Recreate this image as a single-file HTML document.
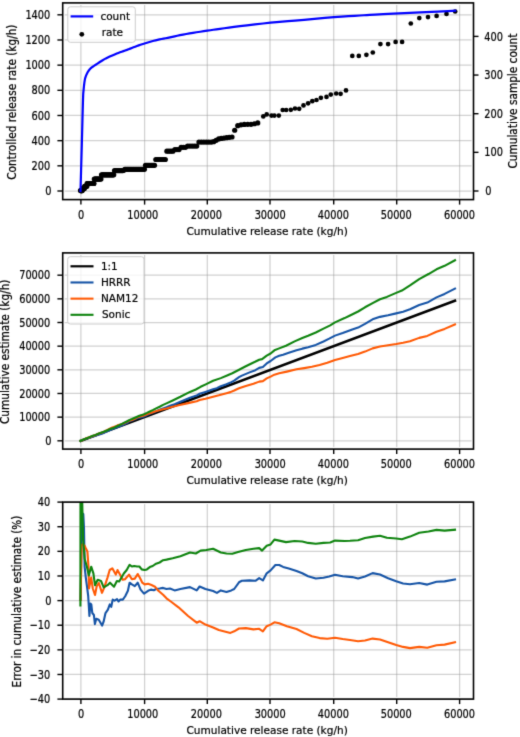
<!DOCTYPE html>
<html><head><meta charset="utf-8"><title>Cumulative release rate plots</title>
<style>html,body{margin:0;padding:0;background:#fff;}svg{display:block;} text{stroke:#000;stroke-width:0.2px;}</style>
</head><body>
<svg width="520" height="737" viewBox="0 0 520 737" font-family="'DejaVu Sans', 'Liberation Sans', sans-serif" fill="#000">
<defs><filter id="soft" x="0" y="0" width="520" height="737" filterUnits="userSpaceOnUse" color-interpolation-filters="sRGB"><feConvolveMatrix order="3" kernelMatrix="0.0144 0.0912 0.0144 0.0912 0.5776 0.0912 0.0144 0.0912 0.0144" edgeMode="duplicate" preserveAlpha="true"/></filter></defs>
<g filter="url(#soft)">
<rect width="520" height="737" fill="#fff"/>
<defs>
<clipPath id="c1"><rect x="62.7" y="2.9" width="410.8" height="196.7"/></clipPath>
<clipPath id="c2"><rect x="62.7" y="252.9" width="410.8" height="196.2"/></clipPath>
<clipPath id="c3"><rect x="62.7" y="502.1" width="410.8" height="197"/></clipPath>
</defs>
<line x1="80.9" y1="4.9" x2="80.9" y2="197.6" stroke="#9a9a9a" stroke-opacity="0.46" stroke-width="1.25"/>
<line x1="144.6" y1="4.9" x2="144.6" y2="197.6" stroke="#9a9a9a" stroke-opacity="0.46" stroke-width="1.25"/>
<line x1="207.3" y1="4.9" x2="207.3" y2="197.6" stroke="#9a9a9a" stroke-opacity="0.46" stroke-width="1.25"/>
<line x1="270" y1="4.9" x2="270" y2="197.6" stroke="#9a9a9a" stroke-opacity="0.46" stroke-width="1.25"/>
<line x1="333.7" y1="4.9" x2="333.7" y2="197.6" stroke="#9a9a9a" stroke-opacity="0.46" stroke-width="1.25"/>
<line x1="396.7" y1="4.9" x2="396.7" y2="197.6" stroke="#9a9a9a" stroke-opacity="0.46" stroke-width="1.25"/>
<line x1="459.6" y1="4.9" x2="459.6" y2="197.6" stroke="#9a9a9a" stroke-opacity="0.46" stroke-width="1.25"/>
<line x1="64.7" y1="191" x2="471.5" y2="191" stroke="#9a9a9a" stroke-opacity="0.46" stroke-width="1.25"/>
<line x1="64.7" y1="165.83" x2="471.5" y2="165.83" stroke="#9a9a9a" stroke-opacity="0.46" stroke-width="1.25"/>
<line x1="64.7" y1="140.66" x2="471.5" y2="140.66" stroke="#9a9a9a" stroke-opacity="0.46" stroke-width="1.25"/>
<line x1="64.7" y1="115.49" x2="471.5" y2="115.49" stroke="#9a9a9a" stroke-opacity="0.46" stroke-width="1.25"/>
<line x1="64.7" y1="90.32" x2="471.5" y2="90.32" stroke="#9a9a9a" stroke-opacity="0.46" stroke-width="1.25"/>
<line x1="64.7" y1="65.15" x2="471.5" y2="65.15" stroke="#9a9a9a" stroke-opacity="0.46" stroke-width="1.25"/>
<line x1="64.7" y1="39.98" x2="471.5" y2="39.98" stroke="#9a9a9a" stroke-opacity="0.46" stroke-width="1.25"/>
<line x1="64.7" y1="14.81" x2="471.5" y2="14.81" stroke="#9a9a9a" stroke-opacity="0.46" stroke-width="1.25"/>
<g clip-path="url(#c1)">
<circle cx="80.5" cy="190.6" r="2.6"/><circle cx="80.85" cy="190.6" r="2.6"/><circle cx="81.2" cy="190.6" r="2.6"/><circle cx="81.55" cy="190.6" r="2.6"/><circle cx="81.9" cy="190.6" r="2.6"/><circle cx="82.25" cy="190.6" r="2.6"/><circle cx="82.6" cy="188.6" r="2.6"/><circle cx="82.95" cy="188.6" r="2.6"/><circle cx="83.3" cy="188.6" r="2.6"/><circle cx="83.65" cy="188.6" r="2.6"/><circle cx="84" cy="188.6" r="2.6"/><circle cx="84.35" cy="188.6" r="2.6"/><circle cx="84.7" cy="186.3" r="2.6"/><circle cx="85.05" cy="186.3" r="2.6"/><circle cx="85.4" cy="186.3" r="2.6"/><circle cx="85.75" cy="186.3" r="2.6"/><circle cx="86.1" cy="186.3" r="2.6"/><circle cx="86.45" cy="186.3" r="2.6"/><circle cx="86.8" cy="186.3" r="2.6"/><circle cx="87.15" cy="183.5" r="2.6"/><circle cx="87.53" cy="183.5" r="2.6"/><circle cx="87.9" cy="183.5" r="2.6"/><circle cx="88.28" cy="183.5" r="2.6"/><circle cx="88.66" cy="183.5" r="2.6"/><circle cx="89.03" cy="183.5" r="2.6"/><circle cx="89.41" cy="183.5" r="2.6"/><circle cx="89.79" cy="183.5" r="2.6"/><circle cx="90.16" cy="183.5" r="2.6"/><circle cx="90.54" cy="183.5" r="2.6"/><circle cx="90.91" cy="183.5" r="2.6"/><circle cx="91.29" cy="183.5" r="2.6"/><circle cx="91.67" cy="183.5" r="2.6"/><circle cx="92.04" cy="183.5" r="2.6"/><circle cx="92.42" cy="183.5" r="2.6"/><circle cx="92.8" cy="183.5" r="2.6"/><circle cx="93.17" cy="183.5" r="2.6"/><circle cx="93.55" cy="183.5" r="2.6"/><circle cx="93.93" cy="183.5" r="2.6"/><circle cx="94.3" cy="179" r="2.6"/><circle cx="94.91" cy="179" r="2.6"/><circle cx="95.51" cy="179" r="2.6"/><circle cx="96.11" cy="179" r="2.6"/><circle cx="96.71" cy="179" r="2.6"/><circle cx="97.32" cy="179" r="2.6"/><circle cx="97.92" cy="179" r="2.6"/><circle cx="98.52" cy="179" r="2.6"/><circle cx="99.12" cy="179" r="2.6"/><circle cx="99.73" cy="179" r="2.6"/><circle cx="100.33" cy="179" r="2.6"/><circle cx="100.93" cy="179" r="2.6"/><circle cx="101.53" cy="174.8" r="2.6"/><circle cx="102.35" cy="174.8" r="2.6"/><circle cx="103.16" cy="174.8" r="2.6"/><circle cx="103.97" cy="174.8" r="2.6"/><circle cx="104.79" cy="174.8" r="2.6"/><circle cx="105.6" cy="174.8" r="2.6"/><circle cx="106.41" cy="174.8" r="2.6"/><circle cx="107.22" cy="174.8" r="2.6"/><circle cx="108.04" cy="174.8" r="2.6"/><circle cx="108.85" cy="174.8" r="2.6"/><circle cx="109.66" cy="174.8" r="2.6"/><circle cx="110.48" cy="174.8" r="2.6"/><circle cx="111.29" cy="174.8" r="2.6"/><circle cx="112.1" cy="174.8" r="2.6"/><circle cx="112.92" cy="174.8" r="2.6"/><circle cx="113.73" cy="174.8" r="2.6"/><circle cx="114.54" cy="170.6" r="2.6"/><circle cx="115.57" cy="170.6" r="2.6"/><circle cx="116.59" cy="170.6" r="2.6"/><circle cx="117.62" cy="170.6" r="2.6"/><circle cx="118.64" cy="170.6" r="2.6"/><circle cx="119.66" cy="170.6" r="2.6"/><circle cx="120.69" cy="170.6" r="2.6"/><circle cx="121.71" cy="170.6" r="2.6"/><circle cx="122.74" cy="170.6" r="2.6"/><circle cx="123.76" cy="170.32" r="2.6"/><circle cx="124.8" cy="169.3" r="2.6"/><circle cx="125.89" cy="169.3" r="2.6"/><circle cx="126.98" cy="169.3" r="2.6"/><circle cx="128.07" cy="169.3" r="2.6"/><circle cx="129.16" cy="169.3" r="2.6"/><circle cx="130.25" cy="169.3" r="2.6"/><circle cx="131.34" cy="169.3" r="2.6"/><circle cx="132.42" cy="169.3" r="2.6"/><circle cx="133.51" cy="169.3" r="2.6"/><circle cx="134.6" cy="169.3" r="2.6"/><circle cx="135.69" cy="169.3" r="2.6"/><circle cx="136.78" cy="169.3" r="2.6"/><circle cx="137.87" cy="169.3" r="2.6"/><circle cx="138.96" cy="169.3" r="2.6"/><circle cx="140.05" cy="169.3" r="2.6"/><circle cx="141.14" cy="169.3" r="2.6"/><circle cx="142.23" cy="169.3" r="2.6"/><circle cx="143.32" cy="169.3" r="2.6"/><circle cx="144.41" cy="169.3" r="2.6"/><circle cx="145.5" cy="165.3" r="2.6"/><circle cx="146.79" cy="165.3" r="2.6"/><circle cx="148.08" cy="165.3" r="2.6"/><circle cx="149.37" cy="165.3" r="2.6"/><circle cx="150.66" cy="165.3" r="2.6"/><circle cx="151.95" cy="165.3" r="2.6"/><circle cx="153.24" cy="165.3" r="2.6"/><circle cx="154.53" cy="165.3" r="2.6"/><circle cx="155.82" cy="159.5" r="2.6"/><circle cx="157.4" cy="159.5" r="2.6"/><circle cx="158.98" cy="159.5" r="2.6"/><circle cx="160.56" cy="159.5" r="2.6"/><circle cx="162.14" cy="159.5" r="2.6"/><circle cx="163.72" cy="159.5" r="2.6"/><circle cx="165.31" cy="159.5" r="2.6"/><circle cx="166.89" cy="151.2" r="2.6"/><circle cx="168.88" cy="151.2" r="2.6"/><circle cx="170.88" cy="151.2" r="2.6"/><circle cx="172.88" cy="151.2" r="2.6"/><circle cx="174.88" cy="149.6" r="2.6"/><circle cx="176.96" cy="149.6" r="2.6"/><circle cx="179.04" cy="149.6" r="2.6"/><circle cx="181.11" cy="147.3" r="2.6"/><circle cx="183.31" cy="147.3" r="2.6"/><circle cx="185.5" cy="147.3" r="2.6"/><circle cx="187.69" cy="146.1" r="2.6"/><circle cx="189.95" cy="146.1" r="2.6"/><circle cx="192.2" cy="146.1" r="2.6"/><circle cx="194.46" cy="146.1" r="2.6"/><circle cx="196.71" cy="146.1" r="2.6"/><circle cx="198.96" cy="142.1" r="2.6"/><circle cx="201.42" cy="142.1" r="2.6"/><circle cx="203.87" cy="142.1" r="2.6"/><circle cx="206.33" cy="142.1" r="2.6"/><circle cx="208.78" cy="142.1" r="2.6"/><circle cx="211.24" cy="142.1" r="2.6"/><circle cx="213.69" cy="141.72" r="2.6"/><circle cx="216.17" cy="140.36" r="2.6"/><circle cx="218.71" cy="138.96" r="2.6"/><circle cx="221.32" cy="138.47" r="2.6"/><circle cx="223.96" cy="138.09" r="2.6"/><circle cx="226.61" cy="137.72" r="2.6"/><circle cx="229.29" cy="137.36" r="2.6"/><circle cx="231.98" cy="137" r="2.6"/><circle cx="234.69" cy="130.27" r="2.6"/><circle cx="237.74" cy="125.71" r="2.6"/><circle cx="241.02" cy="124.84" r="2.6"/><circle cx="244.34" cy="124.38" r="2.6"/><circle cx="247.68" cy="124.35" r="2.6"/><circle cx="251.03" cy="124.32" r="2.6"/><circle cx="254.38" cy="123.73" r="2.6"/><circle cx="257.75" cy="122.94" r="2.6"/><circle cx="263.3" cy="116.4" r="2.35"/><circle cx="266.7" cy="114.4" r="2.35"/><circle cx="271.5" cy="115.6" r="2.35"/><circle cx="274.4" cy="115.6" r="2.35"/><circle cx="278.8" cy="115.6" r="2.35"/><circle cx="282.7" cy="110" r="2.35"/><circle cx="286.2" cy="110" r="2.35"/><circle cx="290.8" cy="109.8" r="2.35"/><circle cx="295" cy="108.5" r="2.35"/><circle cx="299.2" cy="108.8" r="2.35"/><circle cx="303.5" cy="105.4" r="2.35"/><circle cx="308.1" cy="103.3" r="2.35"/><circle cx="312.3" cy="101.2" r="2.35"/><circle cx="316.5" cy="100" r="2.35"/><circle cx="320.9" cy="97.8" r="2.35"/><circle cx="326.5" cy="96.9" r="2.35"/><circle cx="330.8" cy="94.6" r="2.35"/><circle cx="336.2" cy="93.5" r="2.35"/><circle cx="340.6" cy="93.8" r="2.35"/><circle cx="346" cy="90.4" r="2.35"/><circle cx="352.3" cy="55.9" r="2.35"/><circle cx="358.8" cy="55.9" r="2.35"/><circle cx="366.4" cy="54.8" r="2.35"/><circle cx="372.8" cy="52.5" r="2.35"/><circle cx="380.4" cy="44.1" r="2.35"/><circle cx="388.1" cy="44.1" r="2.35"/><circle cx="395.6" cy="41.9" r="2.35"/><circle cx="402.1" cy="41.9" r="2.35"/><circle cx="410.8" cy="23.5" r="2.35"/><circle cx="419.3" cy="18.1" r="2.35"/><circle cx="428" cy="17.1" r="2.35"/><circle cx="436.6" cy="15.9" r="2.35"/><circle cx="446.5" cy="13.9" r="2.35"/><circle cx="455.2" cy="11.5" r="2.35"/>
</g>
<path d="M80.5 191 L80.74 182.71 L81.07 170.81 L81.45 157.51 L81.8 145 L82.12 132.84 L82.45 120.2 L82.75 108.71 L83 100 L83.16 95.19 L83.26 93.19 L83.35 92.3 L83.5 90.8 L83.73 88.29 L84.01 85.66 L84.31 83.17 L84.6 81.1 L84.85 79.62 L85.08 78.54 L85.35 77.62 L85.7 76.6 L86.15 75.4 L86.68 74.15 L87.27 72.93 L87.9 71.8 L88.58 70.77 L89.3 69.82 L90.08 68.93 L90.9 68.1 L91.78 67.36 L92.71 66.7 L93.69 66.07 L94.7 65.4 L95.7 64.72 L96.71 64.04 L97.82 63.31 L99.1 62.5 L100.61 61.55 L102.3 60.49 L104.09 59.41 L105.9 58.4 L107.77 57.46 L109.72 56.56 L111.66 55.7 L113.5 54.9 L115.19 54.18 L116.79 53.53 L118.37 52.91 L120 52.3 L121.7 51.69 L123.44 51.1 L125.19 50.51 L126.9 49.9 L128.56 49.26 L130.2 48.61 L131.84 47.95 L133.5 47.3 L135.21 46.66 L136.95 46.02 L138.69 45.39 L140.4 44.8 L142.07 44.24 L143.71 43.71 L145.34 43.2 L147 42.7 L148.66 42.21 L150.33 41.73 L152.03 41.26 L153.8 40.8 L155.64 40.34 L157.54 39.88 L159.5 39.43 L161.5 39 L163.53 38.6 L165.61 38.23 L167.75 37.84 L170 37.4 L172.32 36.9 L174.72 36.35 L177.25 35.78 L180 35.2 L183.01 34.61 L186.23 33.99 L189.59 33.38 L193 32.8 L196.52 32.25 L200.17 31.72 L203.81 31.2 L207.3 30.7 L210.42 30.23 L213.29 29.78 L216.35 29.32 L220 28.8 L224.24 28.22 L228.89 27.6 L234.09 26.93 L240 26.2 L247.03 25.36 L254.97 24.42 L263.05 23.5 L270.5 22.7 L276.71 22.11 L282.22 21.64 L288 21.18 L295 20.6 L304.04 19.8 L314.41 18.88 L324.82 17.96 L334 17.2 L341.67 16.64 L348.5 16.19 L354.58 15.83 L360 15.5 L363.94 15.24 L366.62 15.07 L369.75 14.88 L375 14.6 L383.24 14.17 L393.43 13.66 L404.4 13.12 L415 12.6 L425.98 12.07 L437.6 11.53 L447.97 11.04 L455.2 10.7" fill="none" stroke="#0000ff" stroke-width="2.2" stroke-linejoin="round" stroke-linecap="square" clip-path="url(#c1)"/>
<rect x="62.7" y="2.9" width="410.8" height="196.7" fill="none" stroke="#000" stroke-width="1.6"/>
<line x1="80.9" y1="199.6" x2="80.9" y2="204.6" stroke="#000" stroke-width="1.4"/>
<text transform="translate(81 218.9) scale(0.96 1.17)" font-size="10.2" text-anchor="middle">0</text>
<line x1="144.6" y1="199.6" x2="144.6" y2="204.6" stroke="#000" stroke-width="1.4"/>
<text transform="translate(142.75 218.9) scale(0.96 1.17)" font-size="10.2" text-anchor="middle">10000</text>
<line x1="207.3" y1="199.6" x2="207.3" y2="204.6" stroke="#000" stroke-width="1.4"/>
<text transform="translate(206.3 218.9) scale(0.96 1.17)" font-size="10.2" text-anchor="middle">20000</text>
<line x1="270" y1="199.6" x2="270" y2="204.6" stroke="#000" stroke-width="1.4"/>
<text transform="translate(270.2 218.9) scale(0.96 1.17)" font-size="10.2" text-anchor="middle">30000</text>
<line x1="333.7" y1="199.6" x2="333.7" y2="204.6" stroke="#000" stroke-width="1.4"/>
<text transform="translate(333.4 218.9) scale(0.96 1.17)" font-size="10.2" text-anchor="middle">40000</text>
<line x1="396.7" y1="199.6" x2="396.7" y2="204.6" stroke="#000" stroke-width="1.4"/>
<text transform="translate(396.25 218.9) scale(0.96 1.17)" font-size="10.2" text-anchor="middle">50000</text>
<line x1="459.6" y1="199.6" x2="459.6" y2="204.6" stroke="#000" stroke-width="1.4"/>
<text transform="translate(459.5 218.9) scale(0.96 1.17)" font-size="10.2" text-anchor="middle">60000</text>
<text transform="translate(267.1 234.6) scale(1 1.04)" font-size="10.55" text-anchor="middle">Cumulative release rate (kg/h)</text>
<line x1="57.4" y1="191" x2="62.7" y2="191" stroke="#000" stroke-width="1.4"/>
<text transform="translate(51.5 195.1) scale(0.96 1.17)" font-size="10.2" text-anchor="end">0</text>
<line x1="57.4" y1="165.83" x2="62.7" y2="165.83" stroke="#000" stroke-width="1.4"/>
<text transform="translate(50.3 169.93) scale(0.96 1.17)" font-size="10.2" text-anchor="end">200</text>
<line x1="57.4" y1="140.66" x2="62.7" y2="140.66" stroke="#000" stroke-width="1.4"/>
<text transform="translate(50.3 144.76) scale(0.96 1.17)" font-size="10.2" text-anchor="end">400</text>
<line x1="57.4" y1="115.49" x2="62.7" y2="115.49" stroke="#000" stroke-width="1.4"/>
<text transform="translate(50.3 119.59) scale(0.96 1.17)" font-size="10.2" text-anchor="end">600</text>
<line x1="57.4" y1="90.32" x2="62.7" y2="90.32" stroke="#000" stroke-width="1.4"/>
<text transform="translate(50.3 94.42) scale(0.96 1.17)" font-size="10.2" text-anchor="end">800</text>
<line x1="57.4" y1="65.15" x2="62.7" y2="65.15" stroke="#000" stroke-width="1.4"/>
<text transform="translate(50.3 69.25) scale(0.96 1.17)" font-size="10.2" text-anchor="end">1000</text>
<line x1="57.4" y1="39.98" x2="62.7" y2="39.98" stroke="#000" stroke-width="1.4"/>
<text transform="translate(50.3 44.08) scale(0.96 1.17)" font-size="10.2" text-anchor="end">1200</text>
<line x1="57.4" y1="14.81" x2="62.7" y2="14.81" stroke="#000" stroke-width="1.4"/>
<text transform="translate(50.3 18.91) scale(0.96 1.17)" font-size="10.2" text-anchor="end">1400</text>
<line x1="473.5" y1="191" x2="478.5" y2="191" stroke="#000" stroke-width="1.4"/>
<text transform="translate(485.2 195.1) scale(0.96 1.17)" font-size="10.2" text-anchor="start">0</text>
<line x1="473.5" y1="152.35" x2="478.5" y2="152.35" stroke="#000" stroke-width="1.4"/>
<text transform="translate(484.2 156.45) scale(0.96 1.17)" font-size="10.2" text-anchor="start">100</text>
<line x1="473.5" y1="113.7" x2="478.5" y2="113.7" stroke="#000" stroke-width="1.4"/>
<text transform="translate(484.2 117.8) scale(0.96 1.17)" font-size="10.2" text-anchor="start">200</text>
<line x1="473.5" y1="75.05" x2="478.5" y2="75.05" stroke="#000" stroke-width="1.4"/>
<text transform="translate(484.2 79.15) scale(0.96 1.17)" font-size="10.2" text-anchor="start">300</text>
<line x1="473.5" y1="36.4" x2="478.5" y2="36.4" stroke="#000" stroke-width="1.4"/>
<text transform="translate(484.2 40.5) scale(0.96 1.17)" font-size="10.2" text-anchor="start">400</text>
<text transform="translate(16.1 102.2) rotate(-90) scale(1 1.1)" font-size="10.55" text-anchor="middle">Controlled release rate (kg/h)</text>
<text transform="translate(517.4 101.1) rotate(-90) scale(1 1.1)" font-size="10.55" text-anchor="middle">Cumulative sample count</text>
<rect x="67.8" y="6.8" width="67.5" height="35.5" rx="2.6" fill="#fff" fill-opacity="0.8" stroke="#cccccc" stroke-width="1"/>
<line x1="70.6" y1="16.4" x2="93.2" y2="16.4" stroke="#0000ff" stroke-width="2.2"/>
<circle cx="81.8" cy="34.3" r="2.4"/>
<text transform="translate(100.4 19.6) scale(1 1.04)" font-size="10.5" text-anchor="start">count</text>
<text transform="translate(101.7 35.8) scale(1 1.04)" font-size="10.5" text-anchor="start">rate</text>
<line x1="80.9" y1="254.9" x2="80.9" y2="447.1" stroke="#9a9a9a" stroke-opacity="0.46" stroke-width="1.25"/>
<line x1="144.6" y1="254.9" x2="144.6" y2="447.1" stroke="#9a9a9a" stroke-opacity="0.46" stroke-width="1.25"/>
<line x1="207.3" y1="254.9" x2="207.3" y2="447.1" stroke="#9a9a9a" stroke-opacity="0.46" stroke-width="1.25"/>
<line x1="270" y1="254.9" x2="270" y2="447.1" stroke="#9a9a9a" stroke-opacity="0.46" stroke-width="1.25"/>
<line x1="333.7" y1="254.9" x2="333.7" y2="447.1" stroke="#9a9a9a" stroke-opacity="0.46" stroke-width="1.25"/>
<line x1="396.7" y1="254.9" x2="396.7" y2="447.1" stroke="#9a9a9a" stroke-opacity="0.46" stroke-width="1.25"/>
<line x1="459.6" y1="254.9" x2="459.6" y2="447.1" stroke="#9a9a9a" stroke-opacity="0.46" stroke-width="1.25"/>
<line x1="64.7" y1="440.8" x2="471.5" y2="440.8" stroke="#9a9a9a" stroke-opacity="0.46" stroke-width="1.25"/>
<line x1="64.7" y1="417.14" x2="471.5" y2="417.14" stroke="#9a9a9a" stroke-opacity="0.46" stroke-width="1.25"/>
<line x1="64.7" y1="393.48" x2="471.5" y2="393.48" stroke="#9a9a9a" stroke-opacity="0.46" stroke-width="1.25"/>
<line x1="64.7" y1="369.82" x2="471.5" y2="369.82" stroke="#9a9a9a" stroke-opacity="0.46" stroke-width="1.25"/>
<line x1="64.7" y1="346.16" x2="471.5" y2="346.16" stroke="#9a9a9a" stroke-opacity="0.46" stroke-width="1.25"/>
<line x1="64.7" y1="322.5" x2="471.5" y2="322.5" stroke="#9a9a9a" stroke-opacity="0.46" stroke-width="1.25"/>
<line x1="64.7" y1="298.84" x2="471.5" y2="298.84" stroke="#9a9a9a" stroke-opacity="0.46" stroke-width="1.25"/>
<line x1="64.7" y1="275.18" x2="471.5" y2="275.18" stroke="#9a9a9a" stroke-opacity="0.46" stroke-width="1.25"/>
<g clip-path="url(#c2)">
<path d="M80.8 440.8 L455 300.65" fill="none" stroke="#000" stroke-width="2.5" stroke-linejoin="round" stroke-linecap="square"/>
<path d="M80.6 440.88 L82 440.19 L83.3 439.53 L84 439.25 L84.3 439.19 L84.6 439.18 L85.8 438.75 L87.2 438.28 L88.2 437.98 L89.4 437.78 L90.4 437.25 L91.3 436.93 L92.3 436.71 L93.9 436.18 L94.9 436.02 L96.3 435.42 L98.75 434.6 L100.2 434.17 L102.1 433.63 L103.6 432.99 L105.5 432.02 L107.9 431.02 L109.8 430.11 L111.25 429.68 L112.7 428.8 L114.6 428.14 L117 427.16 L118.5 426.73 L120.4 425.91 L122.8 425.01 L125.2 423.88 L127.9 422.46 L129.6 421.19 L131.9 420.4 L134.8 419.38 L137.7 417.94 L140.6 417.4 L144 416.46 L148.1 414.59 L150.9 413.37 L153.8 412.3 L156.1 411.27 L159.6 409.84 L163.1 408.39 L166.5 407.19 L170 405.75 L174.6 404.21 L180.4 401.74 L190 397.66 L196.7 395.59 L199.6 393.76 L205.4 391.93 L213.1 389.32 L216.9 388.23 L220.8 386.19 L226.5 384.3 L231.3 382.1 L234.2 380.64 L239 377.14 L241.9 375.61 L249.6 372.39 L255.4 370.15 L259.2 367.88 L262.9 367 L266.7 363.45 L270.6 360.99 L275.4 357.38 L279.2 355.75 L283.1 354.66 L288.8 352.74 L296.5 350.3 L302.3 348.64 L308.1 347.23 L315.8 344.88 L323.5 341.44 L329.2 338.66 L335 335.62 L342.7 332.99 L352.3 329.41 L358.1 327.58 L365 323.94 L372.6 319.3 L380 316.86 L388.1 315.23 L396.2 313.36 L403.1 311.7 L410 309.29 L419.2 305 L427.3 302.59 L436.5 297.4 L444.6 293.92 L455 288.64" fill="none" stroke="#1654a6" stroke-width="2.1" stroke-linejoin="round" stroke-linecap="square"/>
<path d="M80.6 440.88 L81.6 440.43 L82.6 439.97 L84.5 439.1 L85.8 438.53 L87.4 437.84 L88.5 437.52 L89 437.58 L91.2 436.54 L92.8 436.08 L95 435.36 L96.7 434.5 L98.8 433.58 L102 432.61 L104.3 431.53 L107.5 429.87 L109.7 428.63 L112.3 427.45 L115.8 426.31 L117.5 425.35 L120.4 424.44 L122.7 423.78 L125 422.81 L129 420.84 L131.9 420 L134.8 418.77 L137.7 417.19 L140 416.59 L142.3 416.09 L144.6 415.33 L148.1 413.87 L151.5 412.64 L155 411.44 L158.4 410.58 L163.1 409.25 L166.5 408.4 L170.8 407.21 L178.5 405.2 L188.1 403.12 L196.7 401.29 L199.6 400.03 L205.4 398.68 L213.1 396.66 L218.8 395.28 L226.5 393.17 L230.4 392.12 L234.2 390.51 L239 388.26 L245.8 385.9 L253.5 383.68 L259.2 381.63 L262.9 381.1 L266.7 378.41 L270.6 376.64 L274.4 374.68 L279.2 373.34 L286.9 371.63 L296.5 369.33 L304.2 368.1 L311.9 366.76 L319.6 364.98 L327.3 362.76 L335 359.93 L342.7 358 L350 356.1 L358.1 354.06 L365 351.6 L372.6 348.37 L380 346.44 L388.1 345.19 L396.2 344.02 L403.1 342.78 L410 341.28 L419.2 337.88 L427.3 335.9 L436.5 331.76 L444.6 328.89 L455 324.38" fill="none" stroke="#ff5a05" stroke-width="2.1" stroke-linejoin="round" stroke-linecap="square"/>
<path d="M80.4 440.95 L80.5 440.97 L81.8 440.24 L82.4 439.98 L83.1 439.73 L84.7 439.09 L86.9 438.2 L88.8 437.5 L91.2 436.37 L93.4 435.56 L95 435.15 L97.7 433.94 L101 432.63 L103.7 431.76 L107.5 430.17 L110 429.07 L114 427.66 L116.9 426.2 L119.2 425.3 L121.5 424.13 L123.8 422.92 L126.7 421.47 L129.6 419.86 L131.9 419.01 L134.2 417.99 L137.1 416.79 L139.4 415.81 L141.7 415.1 L144.6 413.93 L146.9 412.91 L149.8 411.44 L152.7 410.09 L156.1 408.37 L159.6 406.72 L163.1 404.92 L166.5 403.36 L172.7 400.47 L180.4 396.78 L190 391.91 L195.8 389.49 L200.6 386.82 L206.3 384.14 L213.1 380.8 L220.8 378.12 L226.5 375.79 L232.3 373.27 L238.1 370.28 L245.8 366.3 L253.5 362.48 L259.2 359.74 L262.1 359.11 L266.7 355.68 L270.6 353.49 L274.4 350.33 L279.2 348.38 L286 345.69 L294.6 341.34 L302.3 337.93 L308.1 335.72 L315.8 332.48 L323.5 328.6 L330.2 325.35 L335 322.39 L344.6 318.08 L350 315.49 L358.1 311.51 L365 307.29 L373.1 302.87 L380 299.2 L386.9 296.91 L396.2 292.88 L401.9 290.55 L410 285.45 L419.2 279.11 L428.5 274.03 L436.5 269.32 L444.6 265.81 L455 260.29" fill="none" stroke="#0f840f" stroke-width="2.1" stroke-linejoin="round" stroke-linecap="square"/>
</g>
<rect x="62.7" y="252.9" width="410.8" height="196.2" fill="none" stroke="#000" stroke-width="1.6"/>
<line x1="80.9" y1="449.1" x2="80.9" y2="454.1" stroke="#000" stroke-width="1.4"/>
<text transform="translate(81 468.4) scale(0.96 1.17)" font-size="10.2" text-anchor="middle">0</text>
<line x1="144.6" y1="449.1" x2="144.6" y2="454.1" stroke="#000" stroke-width="1.4"/>
<text transform="translate(142.75 468.4) scale(0.96 1.17)" font-size="10.2" text-anchor="middle">10000</text>
<line x1="207.3" y1="449.1" x2="207.3" y2="454.1" stroke="#000" stroke-width="1.4"/>
<text transform="translate(206.3 468.4) scale(0.96 1.17)" font-size="10.2" text-anchor="middle">20000</text>
<line x1="270" y1="449.1" x2="270" y2="454.1" stroke="#000" stroke-width="1.4"/>
<text transform="translate(270.2 468.4) scale(0.96 1.17)" font-size="10.2" text-anchor="middle">30000</text>
<line x1="333.7" y1="449.1" x2="333.7" y2="454.1" stroke="#000" stroke-width="1.4"/>
<text transform="translate(333.4 468.4) scale(0.96 1.17)" font-size="10.2" text-anchor="middle">40000</text>
<line x1="396.7" y1="449.1" x2="396.7" y2="454.1" stroke="#000" stroke-width="1.4"/>
<text transform="translate(396.25 468.4) scale(0.96 1.17)" font-size="10.2" text-anchor="middle">50000</text>
<line x1="459.6" y1="449.1" x2="459.6" y2="454.1" stroke="#000" stroke-width="1.4"/>
<text transform="translate(459.5 468.4) scale(0.96 1.17)" font-size="10.2" text-anchor="middle">60000</text>
<text transform="translate(267.1 484.1) scale(1 1.04)" font-size="10.55" text-anchor="middle">Cumulative release rate (kg/h)</text>
<line x1="57.4" y1="440.8" x2="62.7" y2="440.8" stroke="#000" stroke-width="1.4"/>
<text transform="translate(51.5 444.9) scale(0.96 1.17)" font-size="10.2" text-anchor="end">0</text>
<line x1="57.4" y1="417.14" x2="62.7" y2="417.14" stroke="#000" stroke-width="1.4"/>
<text transform="translate(50.3 421.24) scale(0.96 1.17)" font-size="10.2" text-anchor="end">10000</text>
<line x1="57.4" y1="393.48" x2="62.7" y2="393.48" stroke="#000" stroke-width="1.4"/>
<text transform="translate(50.3 397.58) scale(0.96 1.17)" font-size="10.2" text-anchor="end">20000</text>
<line x1="57.4" y1="369.82" x2="62.7" y2="369.82" stroke="#000" stroke-width="1.4"/>
<text transform="translate(50.3 373.92) scale(0.96 1.17)" font-size="10.2" text-anchor="end">30000</text>
<line x1="57.4" y1="346.16" x2="62.7" y2="346.16" stroke="#000" stroke-width="1.4"/>
<text transform="translate(50.3 350.26) scale(0.96 1.17)" font-size="10.2" text-anchor="end">40000</text>
<line x1="57.4" y1="322.5" x2="62.7" y2="322.5" stroke="#000" stroke-width="1.4"/>
<text transform="translate(50.3 326.6) scale(0.96 1.17)" font-size="10.2" text-anchor="end">50000</text>
<line x1="57.4" y1="298.84" x2="62.7" y2="298.84" stroke="#000" stroke-width="1.4"/>
<text transform="translate(50.3 302.94) scale(0.96 1.17)" font-size="10.2" text-anchor="end">60000</text>
<line x1="57.4" y1="275.18" x2="62.7" y2="275.18" stroke="#000" stroke-width="1.4"/>
<text transform="translate(50.3 279.28) scale(0.96 1.17)" font-size="10.2" text-anchor="end">70000</text>
<text transform="translate(9.2 351.8) rotate(-90) scale(1 1.1)" font-size="10.55" text-anchor="middle">Cumulative estimate (kg/h)</text>
<rect x="67.7" y="256.7" width="76.3" height="67.3" rx="2.6" fill="#fff" fill-opacity="0.8" stroke="#cccccc" stroke-width="1"/>
<line x1="70.5" y1="266.3" x2="93.5" y2="266.3" stroke="#000" stroke-width="2.2"/>
<text transform="translate(100.9 269.6) scale(1 1.04)" font-size="10.5" text-anchor="start">1:1</text>
<line x1="70.5" y1="282.47" x2="93.5" y2="282.47" stroke="#1654a6" stroke-width="2.1"/>
<text transform="translate(100.9 285.77) scale(1 1.04)" font-size="10.5" text-anchor="start">HRRR</text>
<line x1="70.5" y1="298.64" x2="93.5" y2="298.64" stroke="#ff5a05" stroke-width="2.1"/>
<text transform="translate(100.9 301.94) scale(1 1.04)" font-size="10.5" text-anchor="start">NAM12</text>
<line x1="70.5" y1="314.81" x2="93.5" y2="314.81" stroke="#0f840f" stroke-width="2.1"/>
<text transform="translate(101.9 318.11) scale(1 1.04)" font-size="10.5" text-anchor="start">Sonic</text>
<line x1="80.9" y1="504.1" x2="80.9" y2="697.1" stroke="#9a9a9a" stroke-opacity="0.46" stroke-width="1.25"/>
<line x1="144.6" y1="504.1" x2="144.6" y2="697.1" stroke="#9a9a9a" stroke-opacity="0.46" stroke-width="1.25"/>
<line x1="207.3" y1="504.1" x2="207.3" y2="697.1" stroke="#9a9a9a" stroke-opacity="0.46" stroke-width="1.25"/>
<line x1="270" y1="504.1" x2="270" y2="697.1" stroke="#9a9a9a" stroke-opacity="0.46" stroke-width="1.25"/>
<line x1="333.7" y1="504.1" x2="333.7" y2="697.1" stroke="#9a9a9a" stroke-opacity="0.46" stroke-width="1.25"/>
<line x1="396.7" y1="504.1" x2="396.7" y2="697.1" stroke="#9a9a9a" stroke-opacity="0.46" stroke-width="1.25"/>
<line x1="459.6" y1="504.1" x2="459.6" y2="697.1" stroke="#9a9a9a" stroke-opacity="0.46" stroke-width="1.25"/>
<line x1="64.7" y1="699.1" x2="471.5" y2="699.1" stroke="#9a9a9a" stroke-opacity="0.46" stroke-width="1.25"/>
<line x1="64.7" y1="674.48" x2="471.5" y2="674.48" stroke="#9a9a9a" stroke-opacity="0.46" stroke-width="1.25"/>
<line x1="64.7" y1="649.85" x2="471.5" y2="649.85" stroke="#9a9a9a" stroke-opacity="0.46" stroke-width="1.25"/>
<line x1="64.7" y1="625.23" x2="471.5" y2="625.23" stroke="#9a9a9a" stroke-opacity="0.46" stroke-width="1.25"/>
<line x1="64.7" y1="600.6" x2="471.5" y2="600.6" stroke="#9a9a9a" stroke-opacity="0.46" stroke-width="1.25"/>
<line x1="64.7" y1="575.98" x2="471.5" y2="575.98" stroke="#9a9a9a" stroke-opacity="0.46" stroke-width="1.25"/>
<line x1="64.7" y1="551.35" x2="471.5" y2="551.35" stroke="#9a9a9a" stroke-opacity="0.46" stroke-width="1.25"/>
<line x1="64.7" y1="526.73" x2="471.5" y2="526.73" stroke="#9a9a9a" stroke-opacity="0.46" stroke-width="1.25"/>
<line x1="64.7" y1="502.1" x2="471.5" y2="502.1" stroke="#9a9a9a" stroke-opacity="0.46" stroke-width="1.25"/>
<g clip-path="url(#c3)">
<path d="M80.6 600 L82 513 L83.3 514 L84 528 L84.3 545 L84.6 566.7 L85.8 577.6 L87.2 588 L88.2 596 L89.4 616 L90.4 603.5 L91.3 604.4 L92.3 613 L93.9 615 L94.9 624.1 L96.3 618.8 L98.75 619.8 L100.2 622.2 L102.1 625.6 L103.6 621.7 L105.5 613.1 L107.9 609.7 L109.8 604.4 L111.25 606.8 L112.7 599.6 L114.6 600.6 L117 599.1 L118.5 601.5 L120.4 599.6 L122.8 599.6 L125.2 596.25 L127.9 590.8 L129.6 582.7 L131.9 584.4 L134.8 586.1 L137.7 582.7 L140.6 589.6 L144 593.6 L148.1 590.8 L150.9 589.6 L153.8 590.2 L156.1 589 L159.6 588.5 L163.1 587.9 L166.5 589 L170 588.5 L174.6 590.4 L180.4 589 L190 587.1 L196.7 590.4 L199.6 586.5 L205.4 589 L213.1 591 L216.9 592.9 L220.8 590.4 L226.5 591.9 L231.3 590.4 L234.2 589 L239 582.3 L241.9 580.8 L249.6 580.4 L255.4 580.8 L259.2 578.1 L262.9 580.4 L266.7 573.3 L270.6 570.4 L275.4 565 L279.2 565 L283.1 566.9 L288.8 568.5 L296.5 571 L302.3 573.3 L308.1 576.2 L315.8 578.5 L323.5 577.7 L329.2 576.5 L335 574.8 L342.7 576.2 L352.3 577.1 L358.1 578.4 L365 576.5 L372.6 573.1 L380 574.5 L388.1 578.2 L396.2 581.2 L403.1 583.5 L410 584.2 L419.2 583 L427.3 584.6 L436.5 581.8 L444.6 581.4 L455 579.5" fill="none" stroke="#1654a6" stroke-width="2.1" stroke-linejoin="round" stroke-linecap="square"/>
<path d="M80.6 600 L81.6 546 L82.6 544 L84.5 545.5 L85.8 548.3 L87.4 551.5 L88.5 566.7 L89 588.5 L91.2 577.6 L92.8 588.5 L95 595 L96.7 586.3 L98.8 583 L102 592.8 L104.3 587.4 L107.5 577.6 L109.7 570 L112.3 568.3 L115.8 574.6 L117.5 570 L120.4 575.2 L122.7 579.8 L125 579.2 L129 574.6 L131.9 579.2 L134.8 578.6 L137.7 574 L140 578 L142.3 582.7 L144.6 584.4 L148.1 583.8 L151.5 585 L155 586.7 L158.4 590.8 L163.1 594.8 L166.5 598.3 L170.8 601.5 L178.5 607.3 L188.1 616 L196.7 622.7 L199.6 621.2 L205.4 624.6 L213.1 627.5 L218.8 630 L226.5 631.9 L230.4 632.9 L234.2 631.3 L239 628.5 L245.8 628.1 L253.5 629.4 L259.2 628.8 L262.9 631.3 L266.7 626.2 L270.6 624.6 L274.4 622.3 L279.2 623.3 L286.9 626.2 L296.5 629 L304.2 632.9 L311.9 636.2 L319.6 638.1 L327.3 638.7 L335 637.7 L342.7 639 L350 640 L358.1 641.2 L365 640.5 L372.6 638.6 L380 639.5 L388.1 642.3 L396.2 645.1 L403.1 646.9 L410 648.1 L419.2 646.9 L427.3 647.8 L436.5 645.3 L444.6 644.6 L455 642.3" fill="none" stroke="#ff5a05" stroke-width="2.1" stroke-linejoin="round" stroke-linecap="square"/>
<path d="M80.4 605.5 L80.5 480 L81.8 480 L82.4 510 L83.1 540 L84.7 559 L86.9 566.7 L88.8 575.4 L91.2 566.7 L93.4 573.3 L95 585.2 L97.7 579.8 L101 580.9 L103.7 587.4 L107.5 585.2 L110 582.7 L114 586.7 L116.9 581 L119.2 581.5 L121.5 577.5 L123.8 573.5 L126.7 570 L129.6 564.8 L131.9 566.5 L134.2 566 L137.1 566.5 L139.4 566.5 L141.7 569.4 L144.6 570 L146.9 569.4 L149.8 567.1 L152.7 566 L156.1 563.7 L159.6 562.5 L163.1 560.2 L166.5 559.6 L172.7 558.3 L180.4 556.3 L190 552.5 L195.8 553.5 L200.6 550.6 L206.3 550 L213.1 548.7 L220.8 552.5 L226.5 553.5 L232.3 553.8 L238.1 552.1 L245.8 550 L253.5 548.7 L259.2 548.1 L262.1 550.6 L266.7 545.8 L270.6 544.4 L274.4 539.6 L279.2 540.6 L286 542.1 L294.6 541 L302.3 541.5 L308.1 542.9 L315.8 543.8 L323.5 542.9 L330.2 542.5 L335 540.6 L344.6 541 L350 540.8 L358.1 540.3 L365 538 L373.1 536.6 L380 535.7 L386.9 537.8 L396.2 538.5 L401.9 539.2 L410 536.6 L419.2 532.7 L428.5 531.5 L436.5 529.9 L444.6 530.6 L455 529.7" fill="none" stroke="#0f840f" stroke-width="2.1" stroke-linejoin="round" stroke-linecap="square"/>
</g>
<rect x="62.7" y="502.1" width="410.8" height="197" fill="none" stroke="#000" stroke-width="1.6"/>
<line x1="80.9" y1="699.1" x2="80.9" y2="704.1" stroke="#000" stroke-width="1.4"/>
<text transform="translate(81 718.4) scale(0.96 1.17)" font-size="10.2" text-anchor="middle">0</text>
<line x1="144.6" y1="699.1" x2="144.6" y2="704.1" stroke="#000" stroke-width="1.4"/>
<text transform="translate(142.75 718.4) scale(0.96 1.17)" font-size="10.2" text-anchor="middle">10000</text>
<line x1="207.3" y1="699.1" x2="207.3" y2="704.1" stroke="#000" stroke-width="1.4"/>
<text transform="translate(206.3 718.4) scale(0.96 1.17)" font-size="10.2" text-anchor="middle">20000</text>
<line x1="270" y1="699.1" x2="270" y2="704.1" stroke="#000" stroke-width="1.4"/>
<text transform="translate(270.2 718.4) scale(0.96 1.17)" font-size="10.2" text-anchor="middle">30000</text>
<line x1="333.7" y1="699.1" x2="333.7" y2="704.1" stroke="#000" stroke-width="1.4"/>
<text transform="translate(333.4 718.4) scale(0.96 1.17)" font-size="10.2" text-anchor="middle">40000</text>
<line x1="396.7" y1="699.1" x2="396.7" y2="704.1" stroke="#000" stroke-width="1.4"/>
<text transform="translate(396.25 718.4) scale(0.96 1.17)" font-size="10.2" text-anchor="middle">50000</text>
<line x1="459.6" y1="699.1" x2="459.6" y2="704.1" stroke="#000" stroke-width="1.4"/>
<text transform="translate(459.5 718.4) scale(0.96 1.17)" font-size="10.2" text-anchor="middle">60000</text>
<text transform="translate(267.1 734.1) scale(1 1.04)" font-size="10.55" text-anchor="middle">Cumulative release rate (kg/h)</text>
<line x1="57.4" y1="699.1" x2="62.7" y2="699.1" stroke="#000" stroke-width="1.4"/>
<text transform="translate(50.3 703.2) scale(0.96 1.17)" font-size="10.2" text-anchor="end">−40</text>
<line x1="57.4" y1="674.48" x2="62.7" y2="674.48" stroke="#000" stroke-width="1.4"/>
<text transform="translate(50.3 678.58) scale(0.96 1.17)" font-size="10.2" text-anchor="end">−30</text>
<line x1="57.4" y1="649.85" x2="62.7" y2="649.85" stroke="#000" stroke-width="1.4"/>
<text transform="translate(50.3 653.95) scale(0.96 1.17)" font-size="10.2" text-anchor="end">−20</text>
<line x1="57.4" y1="625.23" x2="62.7" y2="625.23" stroke="#000" stroke-width="1.4"/>
<text transform="translate(50.3 629.33) scale(0.96 1.17)" font-size="10.2" text-anchor="end">−10</text>
<line x1="57.4" y1="600.6" x2="62.7" y2="600.6" stroke="#000" stroke-width="1.4"/>
<text transform="translate(51.5 604.7) scale(0.96 1.17)" font-size="10.2" text-anchor="end">0</text>
<line x1="57.4" y1="575.98" x2="62.7" y2="575.98" stroke="#000" stroke-width="1.4"/>
<text transform="translate(50.3 580.08) scale(0.96 1.17)" font-size="10.2" text-anchor="end">10</text>
<line x1="57.4" y1="551.35" x2="62.7" y2="551.35" stroke="#000" stroke-width="1.4"/>
<text transform="translate(50.3 555.45) scale(0.96 1.17)" font-size="10.2" text-anchor="end">20</text>
<line x1="57.4" y1="526.73" x2="62.7" y2="526.73" stroke="#000" stroke-width="1.4"/>
<text transform="translate(50.3 530.83) scale(0.96 1.17)" font-size="10.2" text-anchor="end">30</text>
<line x1="57.4" y1="502.1" x2="62.7" y2="502.1" stroke="#000" stroke-width="1.4"/>
<text transform="translate(50.3 506.2) scale(0.96 1.17)" font-size="10.2" text-anchor="end">40</text>
<text transform="translate(20.8 601.5) rotate(-90) scale(1 1.1)" font-size="10.55" text-anchor="middle">Error in cumulative estimate (%)</text>
</g>
</svg>
</body></html>
